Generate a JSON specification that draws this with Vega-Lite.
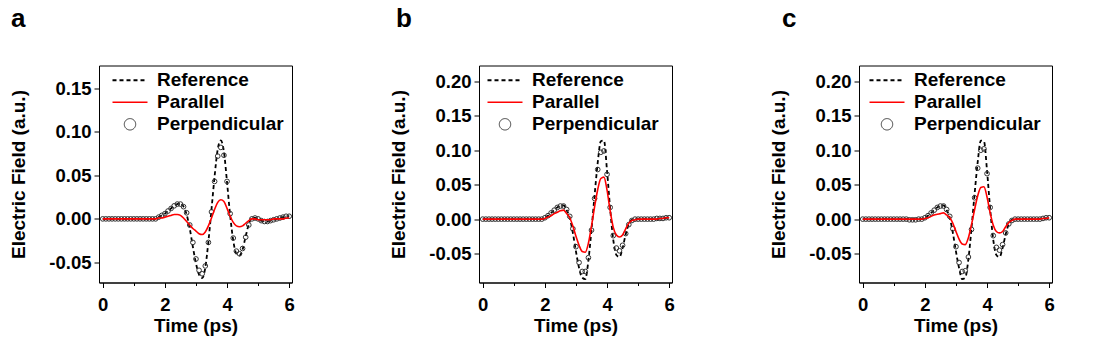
{
  "$schema": "https://vega.github.io/schema/vega-lite/v6.json",
  "background": "white",
  "padding": {"left": 9, "top": 4.5, "right": 5, "bottom": 5},
  "bounds": "flush",
  "spacing": 187,
  "config": {
    "view": {"stroke": "black", "strokeWidth": 1},
    "axis": {"labelFont": "Liberation Sans", "labelFontWeight": "bold", "labelFontSize": 18.5, "labelColor": "black", "titleFont": "Liberation Sans", "titleFontWeight": "bold", "titleFontSize": 19, "titleColor": "black", "domainColor": "black", "tickColor": "black", "grid": false, "tickSize": 5},
    "title": {"font": "Liberation Sans", "fontWeight": "bold", "fontSize": 26, "color": "black", "anchor": "start", "frame": "group", "baseline": "alphabetic", "offset": 34},
    "legend": {"orient": "none", "legendY": 5.3, "title": null, "symbolType": "stroke", "symbolSize": 144, "symbolStrokeWidth": 2, "labelFont": "Liberation Sans", "labelFontWeight": "bold", "labelFontSize": 19, "labelColor": "black", "labelOffset": 17.5, "rowPadding": 2, "padding": 0}
  },
  "datasets": {
    "a": [
      {"t":0,"r":0,"p":0,"q":0},{"t":0.1,"r":0,"p":0,"q":0},{"t":0.2,"r":0,"p":0,"q":0},{"t":0.3,"r":0,"p":0,"q":0},{"t":0.4,"r":0,"p":0,"q":0},{"t":0.5,"r":0,"p":0,"q":0},{"t":0.6,"r":0,"p":0,"q":0},{"t":0.7,"r":0,"p":0,"q":0},{"t":0.8,"r":0,"p":0,"q":0},{"t":0.9,"r":0,"p":0,"q":0},{"t":1.0,"r":0,"p":0,"q":0},{"t":1.1,"r":0,"p":0,"q":0},{"t":1.2,"r":0,"p":0,"q":0},{"t":1.3,"r":0,"p":0,"q":0},{"t":1.4,"r":0,"p":0,"q":0},{"t":1.5,"r":0,"p":0,"q":0},{"t":1.6,"r":0,"p":0,"q":0},
      {"t":1.7,"r":0.000,"p":0.000,"q":0.000},
      {"t":1.8,"r":0.002,"p":0.001,"q":0.002},
      {"t":1.9,"r":0.004,"p":0.001,"q":0.004},
      {"t":2.0,"r":0.006,"p":0.002,"q":0.006},
      {"t":2.1,"r":0.009,"p":0.003,"q":0.009},
      {"t":2.2,"r":0.012,"p":0.004,"q":0.012},
      {"t":2.3,"r":0.015,"p":0.005,"q":0.015},
      {"t":2.4,"r":0.017,"p":0.005,"q":0.017},
      {"t":2.5,"r":0.018,"p":0.004,"q":0.017},
      {"t":2.6,"r":0.014,"p":0.001,"q":0.014},
      {"t":2.7,"r":0.005,"p":-0.003,"q":0.007},
      {"t":2.8,"r":-0.011,"p":-0.007,"q":-0.007},
      {"t":2.9,"r":-0.032,"p":-0.011,"q":-0.027},
      {"t":3.0,"r":-0.051,"p":-0.014,"q":-0.046},
      {"t":3.1,"r":-0.064,"p":-0.017,"q":-0.059},
      {"t":3.2,"r":-0.068,"p":-0.018,"q":-0.063},
      {"t":3.3,"r":-0.056,"p":-0.015,"q":-0.054},
      {"t":3.4,"r":-0.026,"p":-0.008,"q":-0.027},
      {"t":3.5,"r":0.011,"p":0.001,"q":0.008},
      {"t":3.6,"r":0.049,"p":0.011,"q":0.043},
      {"t":3.7,"r":0.080,"p":0.019,"q":0.072},
      {"t":3.8,"r":0.090,"p":0.022,"q":0.082},
      {"t":3.9,"r":0.077,"p":0.020,"q":0.073},
      {"t":4.0,"r":0.042,"p":0.012,"q":0.043},
      {"t":4.1,"r":0.004,"p":0.003,"q":0.006},
      {"t":4.2,"r":-0.025,"p":-0.004,"q":-0.022},
      {"t":4.3,"r":-0.040,"p":-0.008,"q":-0.037},
      {"t":4.4,"r":-0.042,"p":-0.009,"q":-0.040},
      {"t":4.5,"r":-0.035,"p":-0.008,"q":-0.034},
      {"t":4.6,"r":-0.020,"p":-0.005,"q":-0.021},
      {"t":4.7,"r":-0.006,"p":-0.002,"q":-0.007},
      {"t":4.8,"r":0.001,"p":0.000,"q":0.000},
      {"t":4.9,"r":0.001,"p":0.000,"q":0.001},
      {"t":5.0,"r":-0.001,"p":-0.001,"q":0.000},
      {"t":5.1,"r":-0.002,"p":-0.001,"q":-0.002},
      {"t":5.2,"r":-0.003,"p":-0.001,"q":-0.003},
      {"t":5.3,"r":-0.003,"p":-0.001,"q":-0.003},
      {"t":5.4,"r":-0.002,"p":-0.001,"q":-0.002},
      {"t":5.5,"r":-0.001,"p":0.000,"q":-0.001},
      {"t":5.6,"r":0.000,"p":0.000,"q":0.000},
      {"t":5.7,"r":0.001,"p":0.000,"q":0.001},
      {"t":5.8,"r":0.002,"p":0.000,"q":0.002},
      {"t":5.9,"r":0.003,"p":0.001,"q":0.003},
      {"t":6.0,"r":0.003,"p":0.001,"q":0.003}
    ],
    "b": [
      {"t":0,"r":0,"p":0,"q":0},{"t":0.1,"r":0,"p":0,"q":0},{"t":0.2,"r":0,"p":0,"q":0},{"t":0.3,"r":0,"p":0,"q":0},{"t":0.4,"r":0,"p":0,"q":0},{"t":0.5,"r":0,"p":0,"q":0},{"t":0.6,"r":0,"p":0,"q":0},{"t":0.7,"r":0,"p":0,"q":0},{"t":0.8,"r":0,"p":0,"q":0},{"t":0.9,"r":0,"p":0,"q":0},{"t":1.0,"r":0,"p":0,"q":0},{"t":1.1,"r":0,"p":0,"q":0},{"t":1.2,"r":0,"p":0,"q":0},{"t":1.3,"r":0,"p":0,"q":0},{"t":1.4,"r":0,"p":0,"q":0},{"t":1.5,"r":0,"p":0,"q":0},{"t":1.6,"r":0,"p":0,"q":0},{"t":1.7,"r":0,"p":0,"q":0},{"t":1.8,"r":0,"p":0,"q":0},
      {"t":1.9,"r":0.000,"p":0.000,"q":0.000},
      {"t":2.0,"r":0.002,"p":0.001,"q":0.002},
      {"t":2.1,"r":0.005,"p":0.003,"q":0.005},
      {"t":2.2,"r":0.009,"p":0.005,"q":0.009},
      {"t":2.3,"r":0.013,"p":0.008,"q":0.013},
      {"t":2.4,"r":0.017,"p":0.010,"q":0.017},
      {"t":2.5,"r":0.020,"p":0.012,"q":0.019},
      {"t":2.6,"r":0.020,"p":0.013,"q":0.019},
      {"t":2.7,"r":0.013,"p":0.008,"q":0.014},
      {"t":2.8,"r":0.002,"p":0.002,"q":0.004},
      {"t":2.9,"r":-0.020,"p":-0.010,"q":-0.014},
      {"t":3.0,"r":-0.047,"p":-0.025,"q":-0.040},
      {"t":3.1,"r":-0.071,"p":-0.038,"q":-0.063},
      {"t":3.2,"r":-0.085,"p":-0.047,"q":-0.076},
      {"t":3.3,"r":-0.087,"p":-0.048,"q":-0.076},
      {"t":3.4,"r":-0.060,"p":-0.035,"q":-0.056},
      {"t":3.5,"r":-0.015,"p":-0.010,"q":-0.016},
      {"t":3.6,"r":0.035,"p":0.018,"q":0.030},
      {"t":3.7,"r":0.082,"p":0.043,"q":0.072},
      {"t":3.8,"r":0.113,"p":0.059,"q":0.097},
      {"t":3.9,"r":0.114,"p":0.061,"q":0.099},
      {"t":4.0,"r":0.070,"p":0.042,"q":0.065},
      {"t":4.1,"r":0.015,"p":0.012,"q":0.017},
      {"t":4.2,"r":-0.030,"p":-0.012,"q":-0.024},
      {"t":4.3,"r":-0.052,"p":-0.023,"q":-0.042},
      {"t":4.4,"r":-0.055,"p":-0.026,"q":-0.046},
      {"t":4.5,"r":-0.042,"p":-0.023,"q":-0.038},
      {"t":4.6,"r":-0.022,"p":-0.014,"q":-0.021},
      {"t":4.7,"r":-0.007,"p":-0.006,"q":-0.008},
      {"t":4.8,"r":-0.001,"p":-0.002,"q":-0.002},
      {"t":4.9,"r":0.000,"p":-0.001,"q":0.000},
      {"t":5.0,"r":0,"p":0,"q":0},{"t":5.1,"r":0,"p":0,"q":0},{"t":5.2,"r":0,"p":0,"q":0},{"t":5.3,"r":0,"p":0,"q":0},{"t":5.4,"r":0,"p":0,"q":0},{"t":5.5,"r":0,"p":0,"q":0},
      {"t":5.6,"r":0.000,"p":0.000,"q":0.001},
      {"t":5.7,"r":0.001,"p":0.001,"q":0.001},
      {"t":5.8,"r":0.001,"p":0.001,"q":0.001},
      {"t":5.9,"r":0.002,"p":0.002,"q":0.002},
      {"t":6.0,"r":0.002,"p":0.002,"q":0.002}
    ],
    "c": [
      {"t":0,"r":0,"p":0,"q":0},{"t":0.1,"r":0,"p":0,"q":0},{"t":0.2,"r":0,"p":0,"q":0},{"t":0.3,"r":0,"p":0,"q":0},{"t":0.4,"r":0,"p":0,"q":0},{"t":0.5,"r":0,"p":0,"q":0},{"t":0.6,"r":0,"p":0,"q":0},{"t":0.7,"r":0,"p":0,"q":0},{"t":0.8,"r":0,"p":0,"q":0},{"t":0.9,"r":0,"p":0,"q":0},{"t":1.0,"r":0,"p":0,"q":0},{"t":1.1,"r":0,"p":0,"q":0},{"t":1.2,"r":0,"p":0,"q":0},{"t":1.3,"r":0,"p":0,"q":0},{"t":1.4,"r":0,"p":0,"q":0},{"t":1.5,"r":0,"p":0,"q":-0.001},{"t":1.6,"r":0,"p":0,"q":-0.001},{"t":1.7,"r":0,"p":0,"q":-0.001},{"t":1.8,"r":0,"p":0,"q":0},
      {"t":1.9,"r":0.000,"p":0.000,"q":0.000},
      {"t":2.0,"r":0.002,"p":0.001,"q":0.002},
      {"t":2.1,"r":0.005,"p":0.002,"q":0.005},
      {"t":2.2,"r":0.009,"p":0.004,"q":0.009},
      {"t":2.3,"r":0.013,"p":0.006,"q":0.013},
      {"t":2.4,"r":0.017,"p":0.007,"q":0.017},
      {"t":2.5,"r":0.020,"p":0.008,"q":0.019},
      {"t":2.6,"r":0.020,"p":0.009,"q":0.019},
      {"t":2.7,"r":0.013,"p":0.006,"q":0.014},
      {"t":2.8,"r":0.002,"p":0.002,"q":0.004},
      {"t":2.9,"r":-0.020,"p":-0.006,"q":-0.014},
      {"t":3.0,"r":-0.047,"p":-0.018,"q":-0.040},
      {"t":3.1,"r":-0.071,"p":-0.029,"q":-0.063},
      {"t":3.2,"r":-0.087,"p":-0.036,"q":-0.076},
      {"t":3.3,"r":-0.085,"p":-0.037,"q":-0.075},
      {"t":3.4,"r":-0.058,"p":-0.027,"q":-0.055},
      {"t":3.5,"r":-0.013,"p":-0.008,"q":-0.015},
      {"t":3.6,"r":0.037,"p":0.014,"q":0.031},
      {"t":3.7,"r":0.083,"p":0.034,"q":0.074},
      {"t":3.8,"r":0.114,"p":0.046,"q":0.100},
      {"t":3.9,"r":0.113,"p":0.047,"q":0.102},
      {"t":4.0,"r":0.070,"p":0.032,"q":0.066},
      {"t":4.1,"r":0.015,"p":0.009,"q":0.017},
      {"t":4.2,"r":-0.030,"p":-0.009,"q":-0.024},
      {"t":4.3,"r":-0.052,"p":-0.018,"q":-0.041},
      {"t":4.4,"r":-0.055,"p":-0.020,"q":-0.045},
      {"t":4.5,"r":-0.042,"p":-0.018,"q":-0.037},
      {"t":4.6,"r":-0.022,"p":-0.011,"q":-0.020},
      {"t":4.7,"r":-0.007,"p":-0.005,"q":-0.007},
      {"t":4.8,"r":-0.001,"p":-0.002,"q":-0.002},
      {"t":4.9,"r":0.000,"p":0.000,"q":0.000},
      {"t":5.0,"r":0,"p":0,"q":0},{"t":5.1,"r":0,"p":0,"q":0},{"t":5.2,"r":0,"p":0,"q":0},{"t":5.3,"r":0,"p":0,"q":0},{"t":5.4,"r":0,"p":0,"q":0},{"t":5.5,"r":0,"p":0,"q":0},{"t":5.6,"r":0,"p":0,"q":0},{"t":5.7,"r":0,"p":0,"q":0},
      {"t":5.8,"r":0.001,"p":0.001,"q":0.001},
      {"t":5.9,"r":0.001,"p":0.001,"q":0.002},
      {"t":6.0,"r":0.002,"p":0.002,"q":0.002}
    ]
  },
  "resolve": {"scale": {"color": "independent", "x": "independent", "y": "independent"}, "legend": {"color": "independent"}},
  "hconcat": [
    {
      "width": 193, "height": 217,
      "title": {"text": "a", "dx": -88},
      "data": {"name": "a"},
      "encoding": {"x": {"field": "t", "type": "quantitative", "scale": {"domain": [-0.12, 6.09], "nice": false, "zero": false}, "axis": {"title": "Time (ps)", "values": [0,1,2,3,4,5,6], "labelExpr": "datum.value % 2 === 0 ? datum.label : ''", "tickSize": {"condition": {"test": "datum.value % 2 !== 0", "value": 3}, "value": 5}, "labelPadding": 7.5, "titlePadding": 2.5}}},
      "layer": [
        {"mark": {"type": "line", "strokeDash": [4, 3], "strokeWidth": 1.8, "interpolate": "monotone"},
         "encoding": {"y": {"field": "r", "type": "quantitative", "scale": {"domain": [-0.073, 0.176], "nice": false, "zero": false}, "axis": {"title": "Electric Field (a.u.)", "values": [-0.05, 0, 0.05, 0.1, 0.15], "labelExpr": "datum.value < 0 ? '-' + format(-datum.value, '.2f') : format(datum.value, '.2f')", "labelPadding": 3, "titlePadding": 20}},
                      "color": {"datum": "Reference", "scale": {"domain": ["Reference", "Parallel", "Perpendicular"], "range": ["#000000", "#ff0000", "#333333"]},
                        "legend": {"legendX": 21.5, "encode": {"symbols": {"update": {
                          "shape": {"signal": "datum.value === 'Perpendicular' ? 'circle' : 'stroke'"},
                          "size": {"signal": "datum.value === 'Perpendicular' ? 130 : 1225"},
                          "strokeDash": {"signal": "datum.value === 'Reference' ? [4,3] : [1,0]"},
                          "strokeWidth": {"signal": "datum.value === 'Perpendicular' ? 1 : (datum.value === 'Reference' ? 2 : 1.6)"},
                          "fill": {"value": "transparent"}}}}}}}},
        {"mark": {"type": "point", "filled": false, "size": 22, "strokeWidth": 1, "opacity": 1},
         "encoding": {"y": {"field": "q", "type": "quantitative"}, "color": {"datum": "Perpendicular"}}},
        {"mark": {"type": "line", "strokeWidth": 1.6, "interpolate": "monotone"},
         "encoding": {"y": {"field": "p", "type": "quantitative"}, "color": {"datum": "Parallel"}}}
      ]
    },
    {
      "width": 193, "height": 217,
      "title": {"text": "b", "dx": -83},
      "data": {"name": "b"},
      "encoding": {"x": {"field": "t", "type": "quantitative", "scale": {"domain": [-0.12, 6.09], "nice": false, "zero": false}, "axis": {"title": "Time (ps)", "values": [0,1,2,3,4,5,6], "labelExpr": "datum.value % 2 === 0 ? datum.label : ''", "tickSize": {"condition": {"test": "datum.value % 2 !== 0", "value": 3}, "value": 5}, "labelPadding": 7.5, "titlePadding": 2.5}}},
      "layer": [
        {"mark": {"type": "line", "strokeDash": [4, 3], "strokeWidth": 1.8, "interpolate": "monotone"},
         "encoding": {"y": {"field": "r", "type": "quantitative", "scale": {"domain": [-0.092, 0.223], "nice": false, "zero": false}, "axis": {"title": "Electric Field (a.u.)", "values": [-0.05, 0, 0.05, 0.1, 0.15, 0.2], "labelExpr": "datum.value < 0 ? '-' + format(-datum.value, '.2f') : format(datum.value, '.2f')", "labelPadding": 3, "titlePadding": 20}},
                      "color": {"datum": "Reference", "scale": {"domain": ["Reference", "Parallel", "Perpendicular"], "range": ["#000000", "#ff0000", "#333333"]},
                        "legend": {"legendX": 16.5, "encode": {"symbols": {"update": {
                          "shape": {"signal": "datum.value === 'Perpendicular' ? 'circle' : 'stroke'"},
                          "size": {"signal": "datum.value === 'Perpendicular' ? 130 : 1225"},
                          "strokeDash": {"signal": "datum.value === 'Reference' ? [4,3] : [1,0]"},
                          "strokeWidth": {"signal": "datum.value === 'Perpendicular' ? 1 : (datum.value === 'Reference' ? 2 : 1.6)"},
                          "fill": {"value": "transparent"}}}}}}}},
        {"mark": {"type": "point", "filled": false, "size": 22, "strokeWidth": 1, "opacity": 1},
         "encoding": {"y": {"field": "q", "type": "quantitative"}, "color": {"datum": "Perpendicular"}}},
        {"mark": {"type": "line", "strokeWidth": 1.6, "interpolate": "monotone"},
         "encoding": {"y": {"field": "p", "type": "quantitative"}, "color": {"datum": "Parallel"}}}
      ]
    },
    {
      "width": 193, "height": 217,
      "title": {"text": "c", "dx": -77},
      "data": {"name": "c"},
      "encoding": {"x": {"field": "t", "type": "quantitative", "scale": {"domain": [-0.12, 6.09], "nice": false, "zero": false}, "axis": {"title": "Time (ps)", "values": [0,1,2,3,4,5,6], "labelExpr": "datum.value % 2 === 0 ? datum.label : ''", "tickSize": {"condition": {"test": "datum.value % 2 !== 0", "value": 3}, "value": 5}, "labelPadding": 7.5, "titlePadding": 2.5}}},
      "layer": [
        {"mark": {"type": "line", "strokeDash": [4, 3], "strokeWidth": 1.8, "interpolate": "monotone"},
         "encoding": {"y": {"field": "r", "type": "quantitative", "scale": {"domain": [-0.092, 0.223], "nice": false, "zero": false}, "axis": {"title": "Electric Field (a.u.)", "values": [-0.05, 0, 0.05, 0.1, 0.15, 0.2], "labelExpr": "datum.value < 0 ? '-' + format(-datum.value, '.2f') : format(datum.value, '.2f')", "labelPadding": 3, "titlePadding": 20}},
                      "color": {"datum": "Reference", "scale": {"domain": ["Reference", "Parallel", "Perpendicular"], "range": ["#000000", "#ff0000", "#333333"]},
                        "legend": {"legendX": 18.5, "encode": {"symbols": {"update": {
                          "shape": {"signal": "datum.value === 'Perpendicular' ? 'circle' : 'stroke'"},
                          "size": {"signal": "datum.value === 'Perpendicular' ? 130 : 1225"},
                          "strokeDash": {"signal": "datum.value === 'Reference' ? [4,3] : [1,0]"},
                          "strokeWidth": {"signal": "datum.value === 'Perpendicular' ? 1 : (datum.value === 'Reference' ? 2 : 1.6)"},
                          "fill": {"value": "transparent"}}}}}}}},
        {"mark": {"type": "point", "filled": false, "size": 22, "strokeWidth": 1, "opacity": 1},
         "encoding": {"y": {"field": "q", "type": "quantitative"}, "color": {"datum": "Perpendicular"}}},
        {"mark": {"type": "line", "strokeWidth": 1.6, "interpolate": "monotone"},
         "encoding": {"y": {"field": "p", "type": "quantitative"}, "color": {"datum": "Parallel"}}}
      ]
    }
  ]
}
